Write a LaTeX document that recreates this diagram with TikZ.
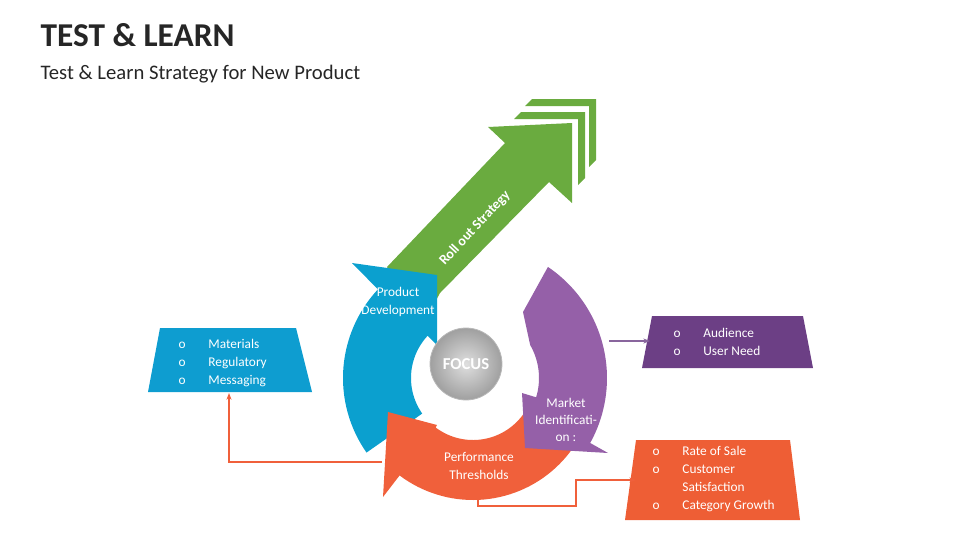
\documentclass[tikz,border=0pt]{standalone}
\usepackage{fontspec}
\setmainfont{Carlito}
\usetikzlibrary{arrows.meta}
\definecolor{cblue}{HTML}{0BA0CF}
\definecolor{cgreen}{HTML}{6AAB3F}
\definecolor{cpurple}{HTML}{9560A8}
\definecolor{corange}{HTML}{F0603B}
\definecolor{bpurple}{HTML}{6C3F85}
\definecolor{borange}{HTML}{EE5E35}
\definecolor{bblue}{HTML}{0E9DD0}
\definecolor{ctitle}{HTML}{262626}
\begin{document}
\begin{tikzpicture}[x=0.75pt,y=-0.75pt,
  lbl/.style={text=white,font=\fontsize{10}{13}\selectfont,align=center,inner sep=0pt},
  box/.style={text=white,font=\fontsize{10}{13.5}\selectfont,align=left,anchor=north west},
  conn/.style={corange,line width=1.2pt,-{Stealth[length=5pt]}}]
\useasboundingbox (0,0) rectangle (960,540);
\node[anchor=west,text=ctitle,font=\fontsize{25}{28}\bfseries\selectfont] (title) at (36,35) {TEST \& LEARN};
\node[anchor=west,text=ctitle,font=\fontsize{15.5}{18}\selectfont] (sub) at (36,74) {Test \& Learn Strategy for New Product};
% green arrow chevrons
\fill[cgreen] (532,99) -- (596,99) -- (596,160) -- (589,167) -- (589,106) -- (525,106) -- cycle;
\fill[cgreen] (521,112) -- (585,112) -- (585,178) -- (578,185) -- (578,119) -- (514,119) -- cycle;
% green arrow
\fill[cgreen] (387,267) -- (505,143) -- (488,127) -- (572,123) -- (572,203) -- (549,182) -- (440,293) -- (420,330) -- cycle;
\node[text=white,font=\fontsize{10.5}{12}\bfseries\selectfont,rotate=47] (roll) at (475,228) {Roll out Strategy};
% blue
\fill[cblue] plot[domain=145:223,samples=40] ({473+130*cos(\x)},{378+130*sin(\x)}) -- (352,263) -- (437,275) -- (437,345) -- plot[domain=223:145,samples=40] ({473+62*cos(\x)},{378+62*sin(\x)}) -- cycle;
% orange
\fill[corange] plot[domain=30:127,samples=40] ({473+122*cos(\x)},{378+122*sin(\x)}) -- (383,497) -- (388,412) -- (437,425) -- plot[domain=127:30,samples=40] ({473+62*cos(\x)},{378+62*sin(\x)}) -- cycle;
% purple
\fill[cpurple] plot[domain=-56:29,samples=40] ({473+134*cos(\x)},{378+134*sin(\x)}) -- (608,453) -- (525,448) -- (522,393) -- plot[domain=17:-30,samples=30] ({473+66*cos(\x)},{378+66*sin(\x)}) -- (523,312) -- cycle;
% focus
\shade[inner color=gray!25,outer color=gray!75] (466,364) circle[radius=36];
\draw[gray!55,line width=0.6pt] (466,364) circle[radius=36];
\node[text=white,font=\fontsize{12.5}{14}\bfseries\selectfont] (focus) at (466,364) {FOCUS};
\node[lbl] (pd) at (398,302) {Product\\Development};
\node[lbl] (mi) at (566,420) {Market\\Identificati-\\on :};
\node[lbl] (pt) at (479,466) {Performance\\Thresholds};
% boxes
\fill[bblue] (160,328) -- (296,328) -- (312,392) -- (148,392) -- cycle;
\fill[bpurple] (652,316) -- (803,316) -- (813,368) -- (642,368) -- cycle;
\fill[borange] (636,440) -- (790,440) -- (800,520) -- (625,520) -- cycle;
\node[box] (bl) at (174,335) {o\hspace{17pt}Materials\\o\hspace{17pt}Regulatory\\o\hspace{17pt}Messaging};
\node[box] (bp) at (669,324) {o\hspace{17pt}Audience\\o\hspace{17pt}User Need};
\node[box] (bo) at (648,442) {o\hspace{17pt}Rate of Sale\\o\hspace{17pt}Customer\\\phantom{o}\hspace{17pt}Satisfaction\\o\hspace{17pt}Category Growth};
% connectors
\coordinate (c1) at (382,462); \coordinate (c1e) at (229,393);
\coordinate (c2) at (609,341); \coordinate (c2e) at (650,341);
\coordinate (c3) at (478,480); \coordinate (c3e) at (636,480);
\draw[conn] (c1) -| (c1e);
\draw[conn,draw=bpurple!80,-{Stealth[length=5pt]}] (c2) -- (c2e);
\draw[conn] (c3) |- (576,506) |- (c3e);
\end{tikzpicture}
\end{document}
